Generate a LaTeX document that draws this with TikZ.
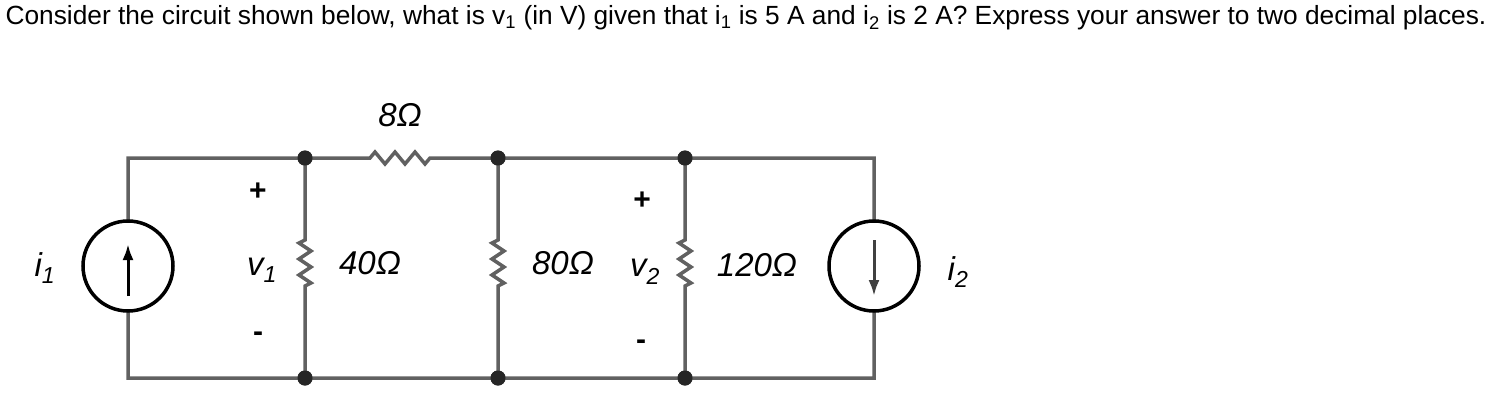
\documentclass[tikz,border=0pt]{standalone}
\usepackage{fontspec}
\setmainfont{Liberation Sans}
\usetikzlibrary{arrows.meta}
\begin{document}
\begin{tikzpicture}[x=1pt,y=-1pt,
  wire/.style={draw=black!62,line width=3.5pt},
  dot/.style={circle,fill=black!85,inner sep=0pt,minimum size=15pt},
  src/.style={circle,draw=black,line width=3.5pt,minimum size=90pt,inner sep=0pt,fill=white},
  lbl/.style={font=\fontsize{33}{33}\selectfont\itshape},
  pm/.style={font=\fontsize{30}{30}\selectfont\bfseries}]
\useasboundingbox (0,0) rectangle (1498,408);
\node[anchor=west,font=\fontsize{26.3}{28}\selectfont] (title) at (2,18) {Consider the circuit shown below, what is v\textsubscript{1} (in V) given that i\textsubscript{1} is 5 A and i\textsubscript{2} is 2 A? Express your answer to two decimal places.};
\coordinate (TL) at (128,158); \coordinate (BL) at (128,378);
\coordinate (TR) at (874,158); \coordinate (BR) at (874,378);
\node[dot] (t1) at (305,158) {}; \node[dot] (b1) at (305,378) {};
\node[dot] (t2) at (498,158) {}; \node[dot] (b2) at (498,378) {};
\node[dot] (t3) at (685,158) {}; \node[dot] (b3) at (685,378) {};
\coordinate (r8a) at (370,158); \coordinate (r8b) at (430,158);
% wires
\draw[wire] (TL) -- (t1.center) -- (r8a) -- ++(5,-6) -- ++(10,12) -- ++(10,-12) -- ++(10,12) -- ++(10,-12) -- ++(10,12) -- (r8b) -- (t2.center) -- (t3.center) -- (TR) -- (BR) -- (b3.center) -- (b2.center) -- (b1.center) -- (BL) -- cycle;
\foreach \n/\x in {1/305,2/498,3/685}{
  \draw[wire] (t\n.center) -- (\x,240) -- ++(-6,3) -- ++(12,8) -- ++(-12,8) -- ++(12,8) -- ++(-12,8) -- ++(12,8) -- ++(-6,3) -- (b\n.center);
}
\foreach \n in {t1,b1,t2,b2,t3,b3}{\node[dot] at (\n) {};}
\node[src] (s1) at (128,266) {};
\draw[-{Latex[length=16pt,width=11pt]},line width=3pt] (128,296) -- (128,244);
\node[src] (s2) at (874,266) {};
\draw[-{Latex[length=16pt,width=11pt]},line width=3pt,black!75] (874,240) -- (874,296);
% labels
\node[lbl] (l8) at (400,115) {8Ω};
\node[lbl] (l40) at (370,263) {40Ω};
\node[lbl] (l80) at (563,263) {80Ω};
\node[lbl] (l120) at (757,265) {120Ω};
\node[lbl] (i1) at (45,268) {i\textsubscript{1}};
\node[lbl] (i2) at (958,272) {i\textsubscript{2}};
\node[lbl] (v1) at (262,270) {v\textsubscript{1}};
\node[lbl] (v2) at (645,272) {v\textsubscript{2}};
\node[pm] (p1) at (258,192) {+};
\node[pm] (m1) at (258,337) {-};
\node[pm] (p2) at (642,201) {+};
\node[pm] (m2) at (641,345) {-};
\end{tikzpicture}
\end{document}
